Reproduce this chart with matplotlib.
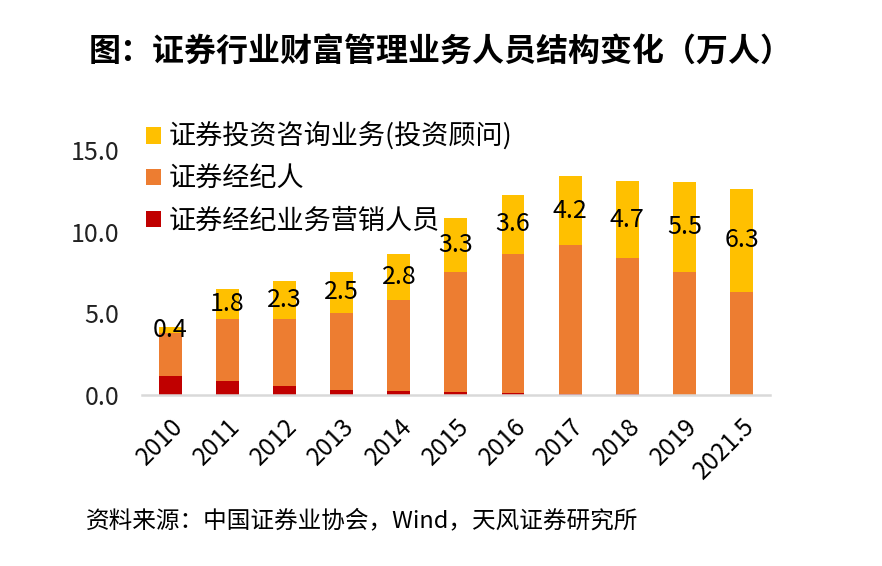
import matplotlib
matplotlib.use("Agg")
import matplotlib.pyplot as plt
import numpy as np

plt.rcParams['font.family'] = ['Noto Sans CJK SC', 'DejaVu Sans']

years = ["2010", "2011", "2012", "2013", "2014", "2015", "2016", "2017", "2018", "2019", "2021.5"]
sales = [1.18, 0.88, 0.57, 0.33, 0.27, 0.20, 0.14, 0.08, 0.08, 0.0, 0.0]      # 证券经纪业务营销人员
brokers = [2.60, 3.80, 4.11, 4.71, 5.57, 7.36, 8.50, 9.11, 8.31, 7.54, 6.31]   # 证券经纪人
advisors = [0.4, 1.8, 2.3, 2.5, 2.8, 3.3, 3.6, 4.2, 4.7, 5.5, 6.3]            # 投资顾问
advisor_labels = ["0.4", "1.8", "2.3", "2.5", "2.8", "3.3", "3.6", "4.2", "4.7", "5.5", "6.3"]

c_red = "#C00000"
c_orange = "#ED7D31"
c_yellow = "#FFC000"

fig = plt.figure(figsize=(8.82, 5.66), dpi=100)
ax = fig.add_axes([0.1607, 0.3021, 0.7124, 0.4329])

x = np.arange(len(years))
w = 0.40
b1 = ax.bar(x, sales, w, color=c_red, label="证券经纪业务营销人员")
b2 = ax.bar(x, brokers, w, bottom=sales, color=c_orange, label="证券经纪人")
bottom3 = np.array(sales) + np.array(brokers)
b3 = ax.bar(x, advisors, w, bottom=bottom3, color=c_yellow, label="证券投资咨询业务(投资顾问)")
ax.bar_label(b3, labels=advisor_labels, label_type="center", fontsize=18, color="black")

ax.set_xlim(-0.5, 10.5)
ax.set_ylim(0, 15)
ax.set_yticks([0, 5, 10, 15])
ax.set_yticklabels(["0.0", "5.0", "10.0", "15.0"])
ax.set_xticks(x)
ax.set_xticklabels(years, rotation=45, ha="right", rotation_mode="anchor")
ax.tick_params(axis="y", length=0, pad=16, labelsize=18, labelcolor="#222222")
ax.tick_params(axis="x", length=0, pad=13, labelsize=17.5)

for s in ["top", "right", "left"]:
    ax.spines[s].set_visible(False)
ax.spines["bottom"].set_color("#D9D9D9")
ax.spines["bottom"].set_linewidth(1.8)

handles = [b3, b2, b1]
labels = [h.get_label() for h in handles]
leg = fig.legend(handles, labels, loc="upper left", bbox_to_anchor=(146 / 882, 1 - 123 / 566),
                 frameon=False, fontsize=19.5, handlelength=0.55, handleheight=0.55,
                 handletextpad=0.3, labelspacing=0.54, borderpad=0, borderaxespad=0)

fig.text(0.5, 1 - 52 / 566, "图：证券行业财富管理业务人员结构变化（万人）", ha="center", va="center",
         fontsize=23, fontweight="bold")
fig.text(86 / 882, 1 - 521 / 566, "资料来源：中国证券业协会，Wind，天风证券研究所", ha="left", va="center",
         fontsize=17)

fig.savefig("out.png", dpi=100)
